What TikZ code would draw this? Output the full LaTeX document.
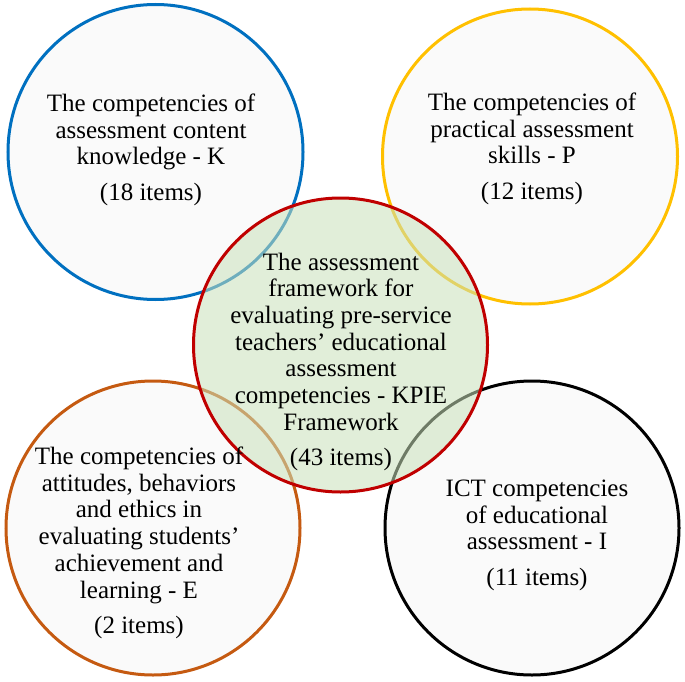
\documentclass[tikz,border=0pt]{standalone}
\usepackage{fontspec}
\setmainfont{Liberation Serif}
\begin{document}
\begin{tikzpicture}[x=1pt,y=-1pt,
  outer/.style={draw, line width=3pt, fill=outerfill},
  lbl/.style={align=center, font=\fontsize{25}{26.7}\selectfont, inner sep=0pt},
]
\definecolor{outerfill}{HTML}{FAFAFA}
\definecolor{kblue}{HTML}{0070C0}
\definecolor{pyellow}{HTML}{FFC000}
\definecolor{eorange}{HTML}{C55A11}
\definecolor{cred}{HTML}{C00000}
\definecolor{cgreen}{RGB}{202,225,187}
\useasboundingbox (0,0) rectangle (685,682);
\fill[white] (0,0) rectangle (685,682);
% outer circles
\draw[outer, draw=kblue] (155.5,152) circle (147.5);
\draw[outer, draw=pyellow] (530,156.5) circle (147.5);
\draw[outer, draw=eorange] (153,528) circle (147);
\draw[outer, draw=black] (532,528) circle (147);
% centre circle
\fill[cgreen, fill opacity=0.55] (340.5,345) circle (147);
\draw[cred, line width=3pt] (340.5,345) circle (147);
% texts
\node[lbl] (k) at (151,150) {The competencies of\\assessment content\\knowledge - K\\[9pt](18 items)};
\node[lbl] (p) at (532,149) {The competencies of\\practical assessment\\skills - P\\[9pt](12 items)};
\node[lbl] (c) at (341,362) {The assessment\\framework for\\evaluating pre-service\\teachers’ educational\\assessment\\competencies - KPIE\\Framework\\[9pt](43 items)};
\node[lbl] (e) at (139,543) {The competencies of\\attitudes, behaviors\\and ethics in\\evaluating students’\\achievement and\\learning - E\\[9pt](2 items)};
\node[lbl] (i) at (537,535.5) {ICT competencies\\of educational\\assessment - I\\[9pt](11 items)};
\end{tikzpicture}
\end{document}
